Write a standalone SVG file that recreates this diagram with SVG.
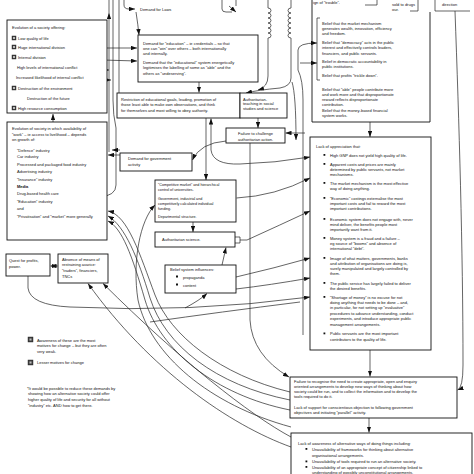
<svg xmlns="http://www.w3.org/2000/svg" width="474" height="474" viewBox="0 0 474 474">
<style>
.box{fill:#fff;stroke:#111;stroke-width:0.9}
.t{font-family:"Liberation Sans",Arial,sans-serif;font-size:4px;fill:#111}
.s{font-size:3.7px}
.b{font-weight:bold}
.c{fill:none;stroke:#222;stroke-width:0.7}
.a{marker-end:url(#ah)}
.cb{fill:#444;stroke:#111;stroke-width:0.4}
.cbi{fill:#bbb}
.bl{fill:#111}
</style>
<defs>
<marker id="ah" markerUnits="userSpaceOnUse" markerWidth="6" markerHeight="4.4" refX="6" refY="2.2" orient="auto"><path d="M0,0 L6,2.2 L0,4.4 z" fill="#111"/></marker>
<marker id="as" markerUnits="userSpaceOnUse" markerWidth="6" markerHeight="4.4" refX="0" refY="2.2" orient="auto"><path d="M6,0 L0,2.2 L6,4.4 z" fill="#111"/></marker>
</defs>
<rect width="474" height="474" fill="#fff"/>

<g id="connectors">
<path class="c a" d="M62,38.5 Q85,37 104,33"/>
<path class="c a" d="M80,47.5 Q98,46 104,42"/>
<path class="c a" d="M82,48 L137,48"/>
<path class="c a" d="M57,58.5 Q100,60 137,61"/>
<path class="c" d="M97,64 H100 V82 H97"/>
<path class="c a" d="M100,70 H109"/>
<path class="c a" d="M100,80 H111"/>
<path class="c a" d="M73,98 Q88,103 101,99"/>
<path class="c a" d="M53,122 V114"/>
<path class="c a" d="M109,152 V13"/>
<path class="c" d="M109,13 V0"/>
<path class="c a" d="M113,0 V100 Q113,115 116,128 V185 Q116,196 99,197"/>
<path class="c" d="M119,0 V93"/>
<path class="c a" d="M120,155 H108"/>
<path class="c a" d="M120,150 H112"/>
<path class="c a" d="M124,0 V5 Q124,9 129,9 H135"/>
<path class="c a" d="M136,12 Q138,25 139,35"/>
<path class="c a" d="M199,82 V92.5"/>
<path class="c" d="M268,0 V8 M268,38 V76"/>
<path class="c a" d="M268,76 Q268,87 258,90"/>
<path class="c" d="M291,0 V8 M291,38 V78"/>
<path class="c a" d="M291,78 Q291,86 280,88 Q258,90 246,93"/>
<path class="c a" d="M292,82 Q296,95 296,140"/>
<path class="c" d="M268,8 a3,2.5 0 0 1 0,5 a3,2.5 0 0 1 0,5 a3,2.5 0 0 1 0,5 a3,2.5 0 0 1 0,5 a3,2.5 0 0 1 0,5 a3,2.5 0 0 1 0,5"/>
<path class="c" d="M291,8 a3,2.5 0 0 0 0,5 a3,2.5 0 0 0 0,5 a3,2.5 0 0 0 0,5 a3,2.5 0 0 0 0,5 a3,2.5 0 0 0 0,5 a3,2.5 0 0 0 0,5"/>
<path class="c" d="M222,0 V9 Q222,12 226,12 H232 M236,0 V6"/>
<path class="c a" d="M229,6 L236,12"/>
<path class="c a" d="M258,118 V128"/>
<path class="c a" d="M305,133 H285.5"/>
<path class="c a" d="M226,141 Q200,143 192.5,160"/>
<path class="c a" d="M206,118 V180"/>
<path class="c a" d="M211,150 V118.5"/>
<path class="c a" d="M211,150 Q213,165 240,164 Q275,163 310,157"/>
<path class="c a" d="M193,222 V232"/>
<path class="c a" d="M222,265 L226,247.5"/>
<path class="c a" d="M236.5,198 Q275,196 310,178"/>
<path class="c" d="M235,237 H240 M235,243 H240 M240,237 V243 M240,240 H247"/>
<path class="c a" d="M247,240 Q280,225 310,211"/>
<path class="c a" d="M236,277 Q275,268 310,258"/>
<path class="c a" d="M236,289 Q270,285 310,278"/>
<path class="c a" d="M250,143 V320 Q252,355 289,377"/>
<path class="c a" d="M303,335 V100 Q303,80 298,70 V50 Q298,43 317,43"/>
<path class="c a" d="M300,63 H317"/>
<path class="c a" d="M455,11 C459,120 463,250 463,365 Q463,388 457.5,390"/>
<path class="c a" d="M370,122 V137"/>
<path class="c a" d="M370,350 V376.5"/>
<path class="c a" d="M369,418 V432.5"/>
<path class="c a" d="M28,276 V288 Q30,305 70,307 Q190,313 310,297"/>
<path class="c" d="M150,322 Q220,312 300,302"/>
<path class="c" style="marker-start:url(#as);marker-end:url(#ah)" d="M50.5,266 H57.5"/>
<path class="c a" d="M291,447 C230,425 150,370 88,283.5"/>
<path class="c a" d="M291,437 C250,415 180,360 103,283.5"/>
<path class="c a" d="M290,392 C220,375 170,335 155,295 C140,255 128,215 108,211"/>
<path class="c a" d="M290,400 C215,385 165,345 150,298 C138,258 125,226 108,216"/>
<path class="c a" d="M290,410 C215,395 160,350 145,300 C132,255 122,228 108,221"/>
<path class="c a" d="M291,427 C210,405 150,355 138,300 C132,262 140,220 155,205"/>
<path class="c a" d="M185,308 Q200,300 207,293.5"/>
</g>

<g id="top-fragments">
<text class="t" x="140" y="11">Demand for Laws</text>
<text class="t" x="313" y="4">ign of “trouble”.</text>
<path class="c" d="M365,5 H377 V0"/>
<text class="t" x="392" y="6">sold to drugs</text>
<text class="t" x="392" y="10.5">our.</text>
<path class="c" d="M410,11 H418 V0"/>
<text class="t" x="442" y="6">direction</text>
<path class="c" d="M435,0 V11 H470"/>
</g>

<g id="n-evolution-offering">
<rect class="box" x="7" y="20" width="100" height="93"/>
<text class="t" x="12" y="28.5">Evolution of a society offering:</text>
<rect class="cb" x="12" y="36" width="4" height="4"/><rect class="cbi" x="13" y="37" width="2" height="2"/>
<text class="t" x="18" y="39.5">Low quality of life</text>
<rect class="cb" x="12" y="45" width="4" height="4"/><rect class="cbi" x="13" y="46" width="2" height="2"/>
<text class="t" x="18" y="48.5">Huge international division</text>
<rect class="cb" x="12" y="55" width="4" height="4"/><rect class="cbi" x="13" y="56" width="2" height="2"/>
<text class="t" x="18" y="58.5">Internal division</text>
<text class="t" x="17" y="68.5">High levels of international conflict</text>
<text class="t" x="16" y="78.5">Increased likelihood of internal conflict</text>
<rect class="cb" x="12" y="86" width="4" height="4"/><rect class="cbi" x="13" y="87" width="2" height="2"/>
<text class="t" x="18" y="89.5">Destruction of the environment</text>
<text class="t" x="27" y="99.5">Destruction of the future</text>
<rect class="cb" x="12" y="106" width="4" height="4"/><rect class="cbi" x="13" y="107" width="2" height="2"/>
<text class="t" x="18" y="109.5">High resource consumption</text>
</g>

<g id="n-evolution-work">
<rect class="box" x="7" y="122" width="100" height="118"/>
<text class="t" x="12" y="130">Evolution of society in which availability of</text>
<text class="t" x="12" y="135.5">“work” – ie access to livelihood – depends</text>
<text class="t" x="12" y="141">on growth of:</text>
<text class="t" x="17" y="151.5">“Defence” industry</text>
<text class="t" x="17" y="157.5">Car industry</text>
<text class="t" x="17" y="165.5">Processed and packaged food industry</text>
<text class="t" x="17" y="172.5">Advertising industry</text>
<text class="t" x="17" y="180.5">“Insurance” industry</text>
<text class="t b" x="17" y="187.5">Media</text>
<text class="t" x="17" y="194.5">Drug-based health care</text>
<text class="t" x="17" y="202.5">“Education” industry</text>
<text class="t" x="17" y="209.5">and</text>
<text class="t" x="17" y="217.5">“Privatisation” and “market” more generally</text>
</g>

<g id="n-quest">
<rect class="box" x="6" y="254" width="44" height="22"/>
<text class="t" x="9" y="262">Quest for profits,</text>
<text class="t" x="9" y="267.5">power.</text>
</g>

<g id="n-absence">
<rect class="box" x="58" y="254" width="50" height="29"/>
<text class="t" x="62" y="261">Absence of means of</text>
<text class="t" x="62" y="266">restraining avarice:</text>
<text class="t" x="62" y="272">“traders”, financiers,</text>
<text class="t" x="62" y="278">TNCs</text>
</g>

<g id="legend">
<rect class="cb" x="28" y="337" width="5" height="5"/><rect class="cbi" x="29.5" y="338.5" width="2" height="2"/>
<text class="t" x="37" y="341.5">Awareness of these are the most</text>
<text class="t" x="37" y="347">motives for change – but they are often</text>
<text class="t" x="37" y="353">very weak.</text>
<rect class="cb" x="28" y="360" width="5" height="5"/><rect class="cbi" x="29.5" y="361.5" width="2" height="2"/>
<text class="t" x="37" y="363.5">Lesser motives for change</text>
<text class="t" x="27" y="389.5">*It would be possible to reduce these demands by</text>
<text class="t" x="28" y="395">showing how an alternative society could offer</text>
<text class="t" x="28" y="401">higher quality of life and security for all without</text>
<text class="t" x="28" y="406.5">“industry” etc. AND how to get there.</text>
</g>

<g id="n-demand-education">
<rect class="box" x="138" y="35" width="120" height="47"/>
<text class="t" x="143" y="44.5">Demand for “education” – ie credentials – so that</text>
<text class="t" x="143" y="49.5">one can “win” over others – both internationally</text>
<text class="t" x="143" y="54.5">and internally.</text>
<text class="t" x="143" y="63.5">Demand that the “educational” system energetically</text>
<text class="t" x="143" y="68.5">legitimises the labelling of some as “able” and the</text>
<text class="t" x="143" y="74.5">others as “undeserving”.</text>
</g>

<g id="n-restriction">
<rect class="box" x="117" y="93" width="123" height="25"/>
<text class="t" x="121" y="100.5">Restriction of educational goals, leading, promotion of</text>
<text class="t" x="121" y="106">those least able to make own observations, and think</text>
<text class="t" x="121" y="111.5">for themselves and most willing to obey authority.</text>
</g>

<g id="n-authoritarian-teaching">
<rect class="box" x="240" y="93" width="47" height="25"/>
<text class="t" x="243" y="100.5">Authoritarian-</text>
<text class="t" x="243" y="105">teaching in social</text>
<text class="t" x="243" y="109.5">studies and science</text>
</g>

<g id="n-failure-challenge">
<rect class="box" x="226" y="128" width="59" height="15"/>
<text class="t" x="255.5" y="135" text-anchor="middle">Failure to challenge</text>
<text class="t" x="255.5" y="140.5" text-anchor="middle">authoritarian action.</text>
</g>

<g id="n-demand-government">
<rect class="box" x="120" y="153" width="72" height="18"/>
<text class="t" x="128" y="160">Demand for government</text>
<text class="t" x="128" y="166">activity</text>
</g>

<g id="n-competitive">
<rect class="box" x="155" y="180" width="81" height="42"/>
<text class="t s" x="158" y="185.5">“Competitive market” and hierarchical</text>
<text class="t s" x="158" y="190.5">control of universities.</text>
<text class="t s" x="158" y="199.5">Government, industrial and</text>
<text class="t s" x="158" y="204.5">competitively calculated individual</text>
<text class="t s" x="158" y="209.5">funding.</text>
<text class="t s" x="158" y="217.5">Departmental structure.</text>
</g>

<g id="n-authoritarian-science">
<rect class="box" x="155" y="232" width="80" height="15"/>
<text class="t" x="162" y="241">Authoritarian science.</text>
</g>

<g id="n-belief-system">
<rect class="box" x="165" y="265" width="71" height="28"/>
<text class="t" x="170" y="270.5">Belief system influences:</text>
<rect class="bl" x="176" y="275.5" width="2" height="2"/>
<text class="t" x="183" y="278.5">propaganda</text>
<rect class="bl" x="176" y="283.5" width="2" height="2"/>
<text class="t" x="183" y="286.5">content</text>
</g>

<g id="n-beliefs">
<path class="box" style="fill:none" d="M312,0 V122 H430 V12"/>
<path class="c" d="M320,18 H317 V80 H320"/>
<text class="t" x="322" y="25">Belief that the market mechanism</text>
<text class="t" x="322" y="30">generates wealth, innovation, efficiency</text>
<text class="t" x="322" y="35">and freedom.</text>
<text class="t" x="322" y="44">Belief that “democracy” acts in the public</text>
<text class="t" x="322" y="49">interest and effectively controls leaders,</text>
<text class="t" x="322" y="55">financiers, and public servants.</text>
<text class="t" x="322" y="63">Belief in democratic accountability in</text>
<text class="t" x="322" y="68">public institutions.</text>
<text class="t" x="322" y="76.5">Belief that profits “trickle down”.</text>
<text class="t" x="322" y="91">Belief that “able” people contribute more</text>
<text class="t" x="322" y="96">and work more and that disproportionate</text>
<text class="t" x="322" y="101">reward reflects disproportionate</text>
<text class="t" x="322" y="106">contribution.</text>
<text class="t" x="322" y="111.5">Belief that the money-based financial</text>
<text class="t" x="322" y="117">system works.</text>
</g>

<g id="n-lack-appreciation">
<rect class="box" x="310" y="137" width="121" height="213"/>
<text class="t" x="316" y="147.5">Lack of appreciation that:</text>
<rect class="bl" x="323.5" y="154" width="1.8" height="1.8"/>
<text class="t" x="330" y="156.5">High GNP does not yield high quality of life.</text>
<rect class="bl" x="323.5" y="163" width="1.8" height="1.8"/>
<text class="t" x="330" y="165.5">Apparent costs and prices are mainly</text>
<text class="t" x="330" y="170.5">determined by public servants, not market</text>
<text class="t" x="330" y="175.5">mechanisms.</text>
<rect class="bl" x="323.5" y="182" width="1.8" height="1.8"/>
<text class="t" x="330" y="184.5">The market mechanism is the most effective</text>
<text class="t" x="330" y="189.5">way of doing anything.</text>
<rect class="bl" x="323.5" y="197" width="1.8" height="1.8"/>
<text class="t" x="330" y="199.5">“Economic” costings externalise the most</text>
<text class="t" x="330" y="204.5">important costs and fail to reward the most</text>
<text class="t" x="330" y="209.5">important contributions.</text>
<rect class="bl" x="323.5" y="218" width="1.8" height="1.8"/>
<text class="t" x="330" y="220.5">Economic system does not engage with, never</text>
<text class="t" x="330" y="225.5">mind deliver, the benefits people most</text>
<text class="t" x="330" y="230.5">importantly want from it.</text>
<rect class="bl" x="323.5" y="237" width="1.8" height="1.8"/>
<text class="t" x="330" y="239.5">Money system is a fraud and a failure –</text>
<text class="t" x="330" y="244.5">eg source of “booms” and absence of</text>
<text class="t" x="330" y="250">international “debt”.</text>
<rect class="bl" x="323.5" y="257" width="1.8" height="1.8"/>
<text class="t" x="330" y="259.5">Image of what matters, governments, banks</text>
<text class="t" x="330" y="264.5">and attribution of organisations are doing is,</text>
<text class="t" x="330" y="269.5">surely manipulated and largely controlled by</text>
<text class="t" x="330" y="274.5">them.</text>
<rect class="bl" x="323.5" y="282" width="1.8" height="1.8"/>
<text class="t" x="330" y="284.5">The public service has largely failed to deliver</text>
<text class="t" x="330" y="289.5">the desired benefits.</text>
<rect class="bl" x="323.5" y="296" width="1.8" height="1.8"/>
<text class="t" x="330" y="298.5">“Shortage of money” is no excuse for not</text>
<text class="t" x="330" y="303.5">doing anything that needs to be done – and,</text>
<text class="t" x="330" y="309">in particular, for not setting up “evaluative”</text>
<text class="t" x="330" y="314.5">procedures to advance understanding, conduct</text>
<text class="t" x="330" y="320">experiments, and introduce appropriate public</text>
<text class="t" x="330" y="326">management arrangements.</text>
<rect class="bl" x="323.5" y="332.5" width="1.8" height="1.8"/>
<text class="t" x="330" y="335">Public servants are the most important</text>
<text class="t" x="330" y="340.5">contributors to the quality of life.</text>
</g>

<g id="n-failure-recognise">
<rect class="box" x="290" y="377" width="167" height="41"/>
<text class="t" x="294" y="382.5">Failure to recognise the need to create appropriate, open and enquiry</text>
<text class="t" x="294" y="387.5">oriented arrangements to develop new ways of thinking about how</text>
<text class="t" x="294" y="392.5">society could be run, and to collect the information and to develop the</text>
<text class="t" x="294" y="398">tools required to do it.</text>
<text class="t" x="294" y="408.5">Lack of support for conscientious objection to following government</text>
<text class="t" x="294" y="414">objectives and initiating “parallel” activity.</text>
</g>

<g id="n-lack-awareness">
<rect class="box" x="291" y="433" width="181" height="50"/>
<text class="t" x="298" y="444.5">Lack of awareness of alternative ways of doing things including:</text>
<rect class="bl" x="305.5" y="448" width="1.8" height="1.8"/>
<text class="t" x="312" y="450.5">Unavailability of frameworks for thinking about alternative</text>
<text class="t" x="312" y="457">organisational arrangements.</text>
<rect class="bl" x="305.5" y="460.5" width="1.8" height="1.8"/>
<text class="t" x="312" y="463">Unavailability of tools required to run an alternative society.</text>
<rect class="bl" x="305.5" y="466" width="1.8" height="1.8"/>
<text class="t" x="312" y="468.5">Unavailability of an appropriate concept of citizenship linked to</text>
<text class="t" x="312" y="473.5">understanding of possibly unconstitutional arrangements.</text>
</g>
</svg>
